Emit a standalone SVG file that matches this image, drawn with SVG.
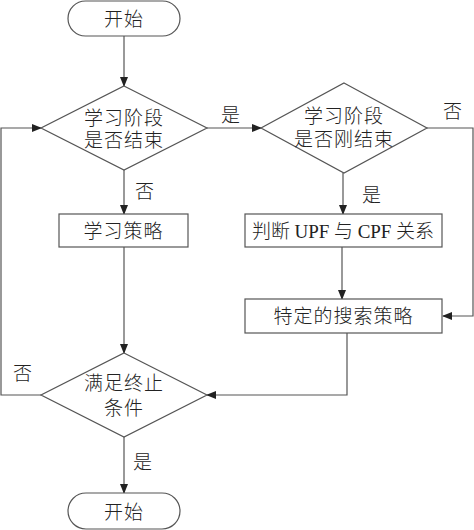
<svg xmlns="http://www.w3.org/2000/svg" width="474" height="530" viewBox="0 0 474 530">
<defs>
<marker id="ah" markerWidth="10" markerHeight="8" refX="9" refY="4" orient="auto" markerUnits="userSpaceOnUse">
<path d="M0,0 L10,4 L0,8 Z" fill="#222"/>
</marker>
<style>
.s{fill:#fff;stroke:#555;stroke-width:1.2}
.c{fill:none;stroke:#555;stroke-width:1.2}
.t{font-family:"Liberation Serif","Noto Sans CJK SC",serif;font-size:19px;font-weight:300;fill:#222;text-anchor:middle;dominant-baseline:central;letter-spacing:1px}
</style>
</defs>
<rect width="474" height="530" fill="#fff"/>
<g id="connectors">
<path class="c" d="M124,36 V86" marker-end="url(#ah)"/>
<path class="c" d="M207,128 H261" marker-end="url(#ah)"/>
<path class="c" d="M124,170 V214" marker-end="url(#ah)"/>
<path class="c" d="M343,173 V214" marker-end="url(#ah)"/>
<path class="c" d="M342,247 V299" marker-end="url(#ah)"/>
<path class="c" d="M427,128 H473 V316 H443" marker-end="url(#ah)"/>
<path class="c" d="M124,247 V353" marker-end="url(#ah)"/>
<path class="c" d="M347,333 V395 H207" marker-end="url(#ah)"/>
<path class="c" d="M41,395 H1 V128 H41" marker-end="url(#ah)"/>
<path class="c" d="M124,437 V493" marker-end="url(#ah)"/>
<text class="t" x="231" y="115">是</text>
<text class="t" x="453" y="111">否</text>
<text class="t" x="145" y="191">否</text>
<text class="t" x="372" y="195">是</text>
<text class="t" x="23" y="373">否</text>
<text class="t" x="143" y="462">是</text>
</g>
<g id="start">
<rect class="s" x="68" y="1" width="112" height="35" rx="17.5"/>
<text class="t" x="124" y="19">开始</text>
</g>
<g id="d1">
<path class="s" d="M124,86 L207,128 L124,170 L41,128 Z"/>
<text class="t" x="124" y="118">学习阶段</text>
<text class="t" x="124" y="140">是否结束</text>
</g>
<g id="d2">
<path class="s" d="M344,83 L427,128 L344,173 L261,128 Z"/>
<text class="t" x="344" y="116">学习阶段</text>
<text class="t" x="344" y="139">是否刚结束</text>
</g>
<g id="r1">
<rect class="s" x="59" y="214" width="129" height="33"/>
<text class="t" x="123.5" y="231">学习策略</text>
</g>
<g id="r2">
<rect class="s" x="245" y="214" width="197" height="33"/>
<text class="t" x="343.5" y="231" textLength="183" lengthAdjust="spacing">判断 UPF 与 CPF 关系</text>
</g>
<g id="r3">
<rect class="s" x="245" y="299" width="197" height="34"/>
<text class="t" x="343.5" y="316">特定的搜索策略</text>
</g>
<g id="d3">
<path class="s" d="M124,353 L207,395 L124,437 L41,395 Z"/>
<text class="t" x="124" y="383">满足终止</text>
<text class="t" x="124" y="408">条件</text>
</g>
<g id="end">
<rect class="s" x="68" y="493" width="112" height="36" rx="18"/>
<text class="t" x="124" y="512">开始</text>
</g>
</svg>
